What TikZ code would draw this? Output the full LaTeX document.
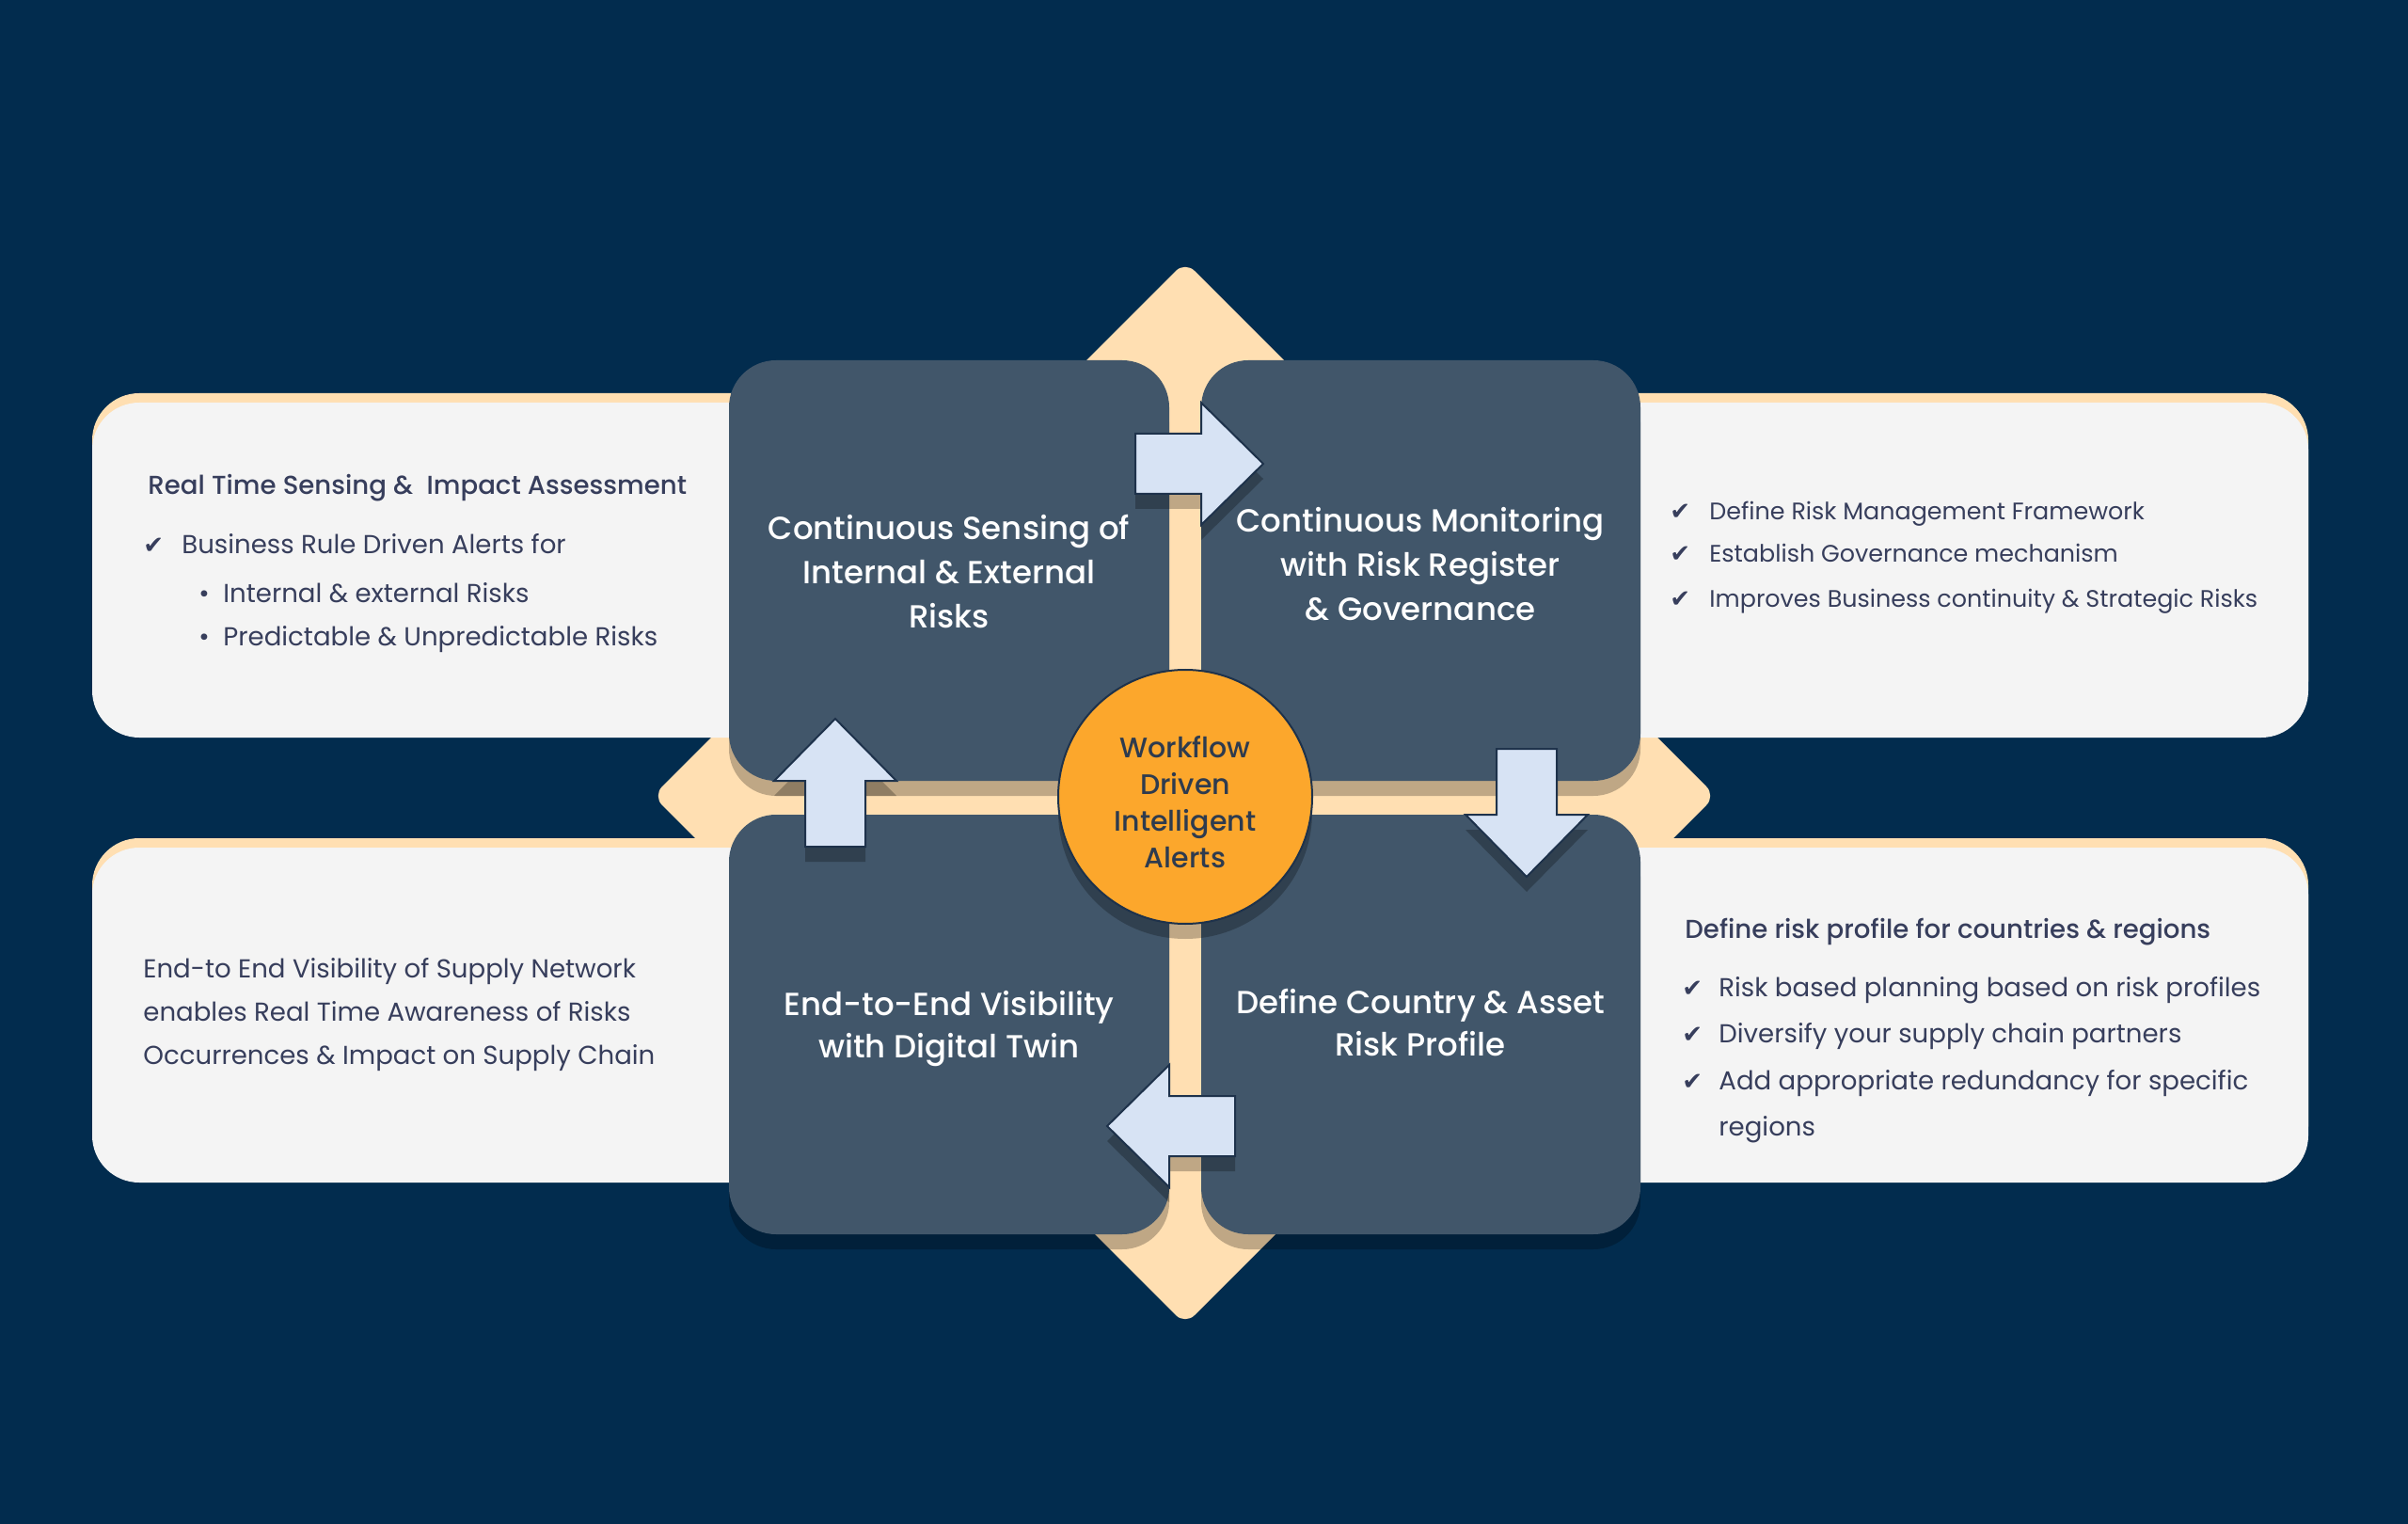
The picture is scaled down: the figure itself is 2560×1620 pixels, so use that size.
\documentclass[tikz,border=0pt]{standalone}
\usepackage{fontspec}
\setmainfont{Poppins}
\newfontfamily\pmed{Poppins Medium}
\newfontfamily\symf{DejaVu Sans}
\definecolor{navy}{RGB}{2,44,78}
\definecolor{cream}{RGB}{255,223,178}
\definecolor{slate}{RGB}{65,86,106}
\definecolor{panel}{RGB}{244,244,244}
\definecolor{ptext}{RGB}{55,62,92}
\definecolor{lblue}{RGB}{215,227,244}
\definecolor{aedge}{RGB}{30,50,75}
\definecolor{orng}{RGB}{252,167,44}
\definecolor{ctext}{RGB}{46,59,78}
\tikzset{
  quad/.style={fill=slate, rounded corners=25pt},
  shade/.style={fill=black, fill opacity=0.25, rounded corners=25pt},
  panelbox/.style={fill=panel, rounded corners=25pt},
  panelrim/.style={fill=cream, rounded corners=25pt},
  blockarrow/.style={fill=lblue, draw=aedge, line width=1pt, line join=miter},
  arrowshade/.style={fill=black, fill opacity=0.25},
  qtitle/.style={text=white, align=center, font=\pmed\fontsize{17}{23.5}\selectfont},
  qtitleb/.style={text=white, align=center, font=\pmed\fontsize{17}{22.5}\selectfont},
  ptxt/.style={text=ptext, anchor=base west, inner sep=0pt, font=\fontsize{13.8}{16}\selectfont},
  ptxtsm/.style={text=ptext, anchor=base west, inner sep=0pt, font=\fontsize{12.7}{16}\selectfont},
  phead/.style={text=ptext, anchor=base west, inner sep=0pt, font=\pmed\fontsize{13.8}{16}\selectfont},
  chk/.style={text=ptext, anchor=base west, inner sep=0pt, font=\symf\fontsize{13}{14}\selectfont},
}
\begin{document}
\begin{tikzpicture}[x=0.5pt,y=-0.5pt]
\useasboundingbox (0,0) rectangle (2560,1620);
\fill[navy] (0,0) rectangle (2560,1620);

% cream cross with four arrow tips
\fill[cream] (1243,300) rectangle (1277,1390);
\fill[cream] (720,829) rectangle (1800,866);
\fill[cream, rounded corners=7pt] (1260,278) -- (1460,478) -- (1060,478) -- cycle;
\fill[cream, rounded corners=7pt] (1260,1408) -- (1460,1208) -- (1060,1208) -- cycle;
\fill[cream, rounded corners=7pt] (694,846) -- (894,646) -- (894,1046) -- cycle;
\fill[cream, rounded corners=7pt] (1824,846) -- (1624,646) -- (1624,1046) -- cycle;

% side panels
\fill[panelrim] (98,418) rectangle (900,774);
\fill[panelbox] (98,428) rectangle (900,784);
\fill[panelrim] (1620,418) rectangle (2454,774);
\fill[panelbox] (1620,428) rectangle (2454,784);
\fill[panelrim] (98,891) rectangle (900,1247);
\fill[panelbox] (98,901) rectangle (900,1257);
\fill[panelrim] (1620,891) rectangle (2454,1247);
\fill[panelbox] (1620,901) rectangle (2454,1257);

% quadrant boxes with shadows
\begin{scope}[yshift=-8pt]
\fill[shade] (775,383) rectangle (1243,830);
\fill[shade] (1277,383) rectangle (1744,830);
\fill[shade] (775,866) rectangle (1243,1312);
\fill[shade] (1277,866) rectangle (1744,1312);
\end{scope}
\fill[quad] (775,383) rectangle (1243,830);
\fill[quad] (1277,383) rectangle (1744,830);
\fill[quad] (775,866) rectangle (1243,1312);
\fill[quad] (1277,866) rectangle (1744,1312);

% block arrows (shadows)
\begin{scope}[yshift=-8pt]
\fill[arrowshade] (1207,461) -- (1277,461) -- (1277,428) -- (1343,493) -- (1277,558) -- (1277,525) -- (1207,525) -- cycle;
\fill[arrowshade] (1591,796) -- (1655,796) -- (1655,866) -- (1688,866) -- (1623,932) -- (1558,866) -- (1591,866) -- cycle;
\fill[arrowshade] (1313,1165) -- (1243,1165) -- (1243,1132) -- (1177,1197) -- (1243,1262) -- (1243,1229) -- (1313,1229) -- cycle;
\fill[arrowshade] (856,900) -- (920,900) -- (920,830) -- (953,830) -- (888,764) -- (823,830) -- (856,830) -- cycle;
\end{scope}
% block arrows
\filldraw[blockarrow] (1207,461) -- (1277,461) -- (1277,428) -- (1343,493) -- (1277,558) -- (1277,525) -- (1207,525) -- cycle;
\filldraw[blockarrow] (1591,796) -- (1655,796) -- (1655,866) -- (1688,866) -- (1623,932) -- (1558,866) -- (1591,866) -- cycle;
\filldraw[blockarrow] (1313,1165) -- (1243,1165) -- (1243,1132) -- (1177,1197) -- (1243,1262) -- (1243,1229) -- (1313,1229) -- cycle;
\filldraw[blockarrow] (856,900) -- (920,900) -- (920,830) -- (953,830) -- (888,764) -- (823,830) -- (856,830) -- cycle;

% central hub
\fill[black, fill opacity=0.25] (1260,863) circle (67.5pt);
\node[circle, fill=orng, draw=aedge, line width=1pt, minimum size=135pt, inner sep=0pt] (hub) at (1260,847) {};
\node[text=ctext, align=center, font=\pmed\fontsize{15}{19.5}\selectfont] (hubtext) at (1260,853)
      {Workflow\\Driven\\Intelligent\\Alerts};

% quadrant titles
\node[qtitle] (q1) at (1009,608) {Continuous Sensing of\\Internal \& External\\Risks};
\node[qtitle] (q2) at (1510,600) {Continuous Monitoring\\with Risk Register\\\& Governance};
\node[qtitleb] (q3) at (1009,1094) {End-to-End Visibility\\with Digital Twin};
\node[qtitleb] (q4) at (1510,1087) {Define Country \& Asset\\Risk Profile};

% top-left panel text
\node[phead] (tlh) at (157,526) {Real Time Sensing \&~~Impact Assessment};
\node[chk] (tlc1) at (152,589) {✔};
\node[ptxt] (tl1) at (193,589) {Business Rule Driven Alerts for};
\node[ptxt] (tlb1) at (211,641) {•};
\node[ptxt] (tl2) at (237,641) {Internal \& external Risks};
\node[ptxt] (tlb2) at (211,687) {•};
\node[ptxt] (tl3) at (237,687) {Predictable \& Unpredictable Risks};

% top-right panel text
\node[chk] (trc1) at (1775,553) {✔};
\node[ptxtsm] (tr1) at (1817,553) {Define Risk Management Framework};
\node[chk] (trc2) at (1775,598) {✔};
\node[ptxtsm] (tr2) at (1817,598) {Establish Governance mechanism};
\node[chk] (trc3) at (1775,646) {✔};
\node[ptxtsm] (tr3) at (1817,646) {Improves Business continuity \& Strategic Risks};

% bottom-left panel text
\node[ptxt] (bl1) at (152,1039) {End-to End Visibility of Supply Network};
\node[ptxt] (bl2) at (152,1085) {enables Real Time Awareness of Risks};
\node[ptxt] (bl3) at (152,1131) {Occurrences \& Impact on Supply Chain};

% bottom-right panel text
\node[phead] (brh) at (1791,997) {Define risk profile for countries \& regions};
\node[chk] (brc1) at (1788,1059) {✔};
\node[ptxt] (br1) at (1827,1059) {Risk based planning based on risk profiles};
\node[chk] (brc2) at (1788,1108) {✔};
\node[ptxt] (br2) at (1827,1108) {Diversify your supply chain partners};
\node[chk] (brc3) at (1788,1158) {✔};
\node[ptxt] (br3) at (1827,1158) {Add appropriate redundancy for specific};
\node[ptxt] (br4) at (1827,1207) {regions};
\end{tikzpicture}
\end{document}
